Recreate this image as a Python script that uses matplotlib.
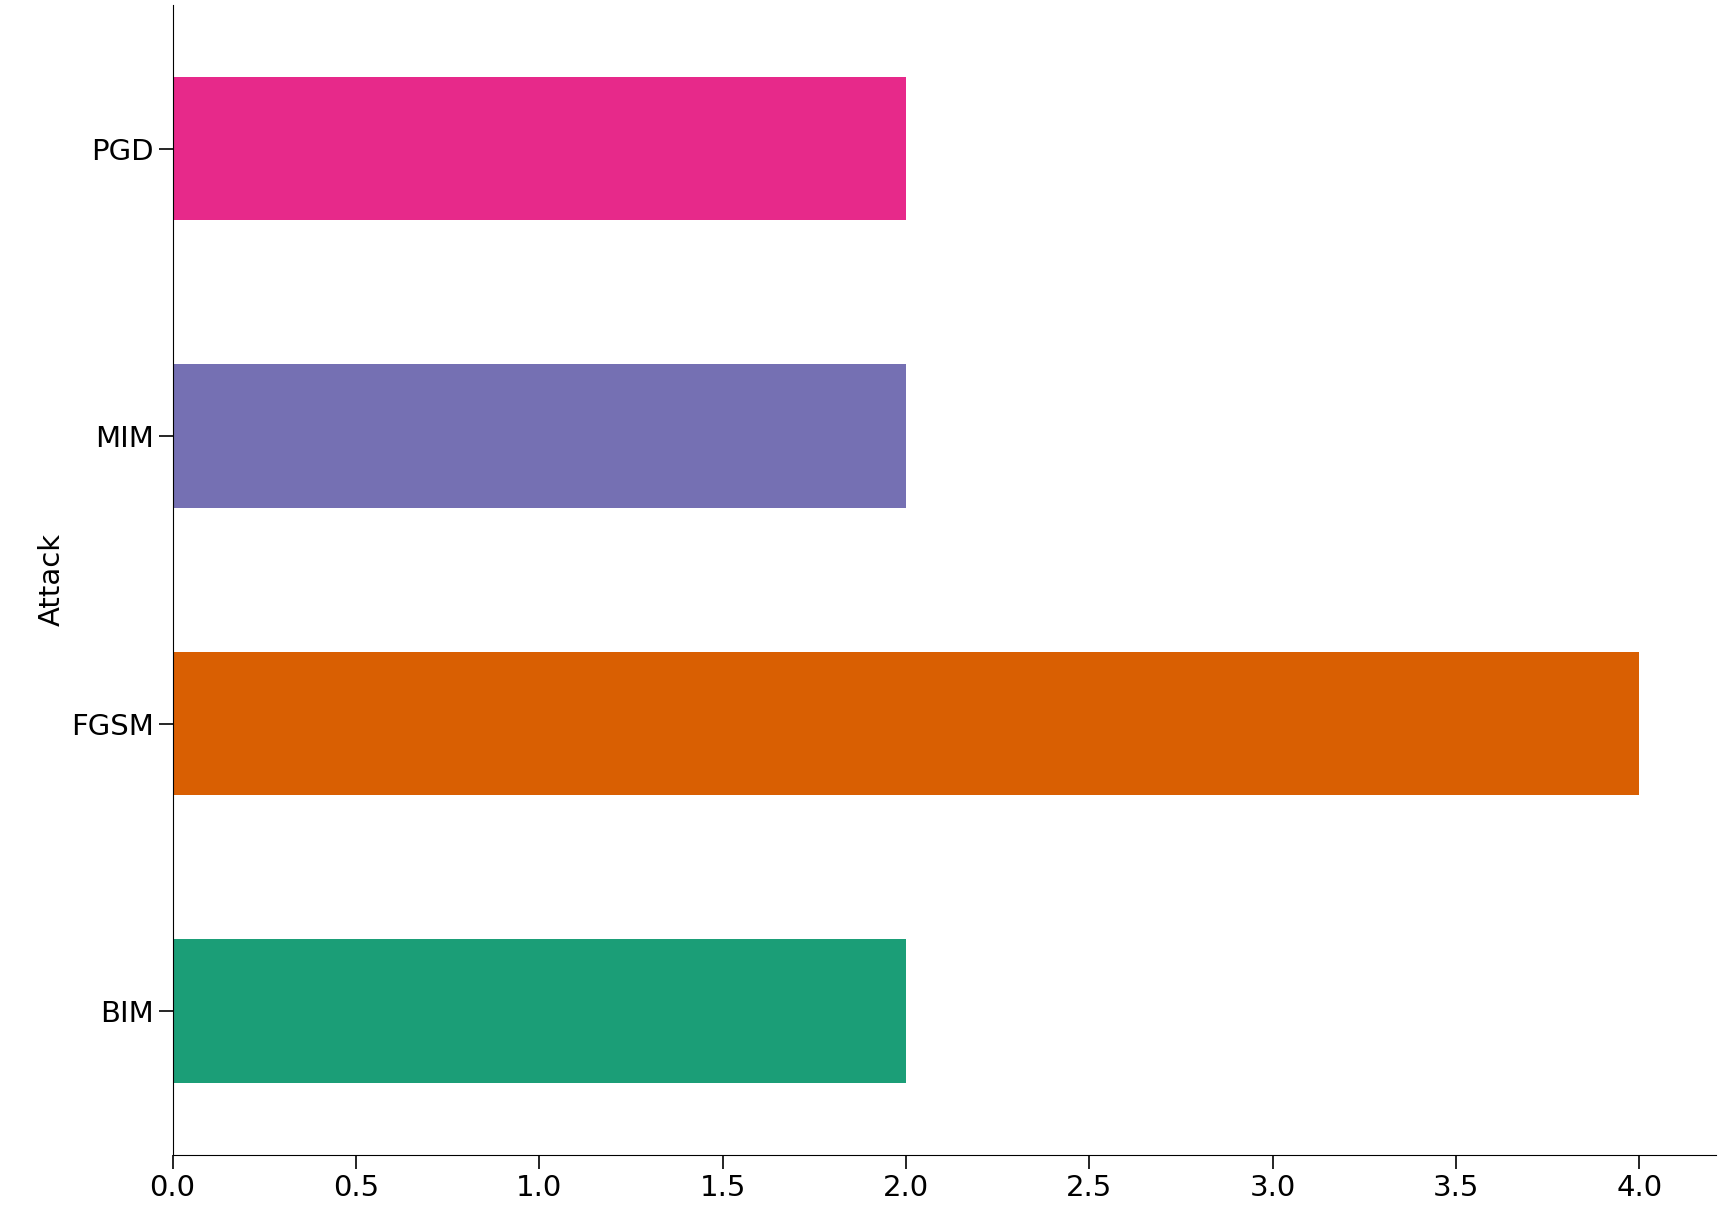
import matplotlib.pyplot as plt

attacks = ['BIM', 'FGSM', 'MIM', 'PGD']
counts = [2, 4, 2, 2]
colors = ['#1b9e77', '#d95f02', '#7570b3', '#e7298a']

fig = plt.figure(figsize=(17.25, 12.13), dpi=100)
ax = fig.add_axes([0.1, 0.048, 0.895, 0.948])
ax.barh(range(len(attacks)), counts, height=0.5, color=colors)
ax.set_yticks(range(len(attacks)))
ax.set_yticklabels(attacks)
ax.set_ylim(-0.5, 3.5)
ax.set_xlim(0, 4.21)
ax.set_xticks([0, 0.5, 1, 1.5, 2, 2.5, 3, 3.5, 4])
ax.set_ylabel('Attack', fontsize=21)
ax.tick_params(labelsize=21, length=10, width=1.2)
for s in ['top', 'right']:
    ax.spines[s].set_visible(False)

plt.savefig('out.png', dpi=100)
